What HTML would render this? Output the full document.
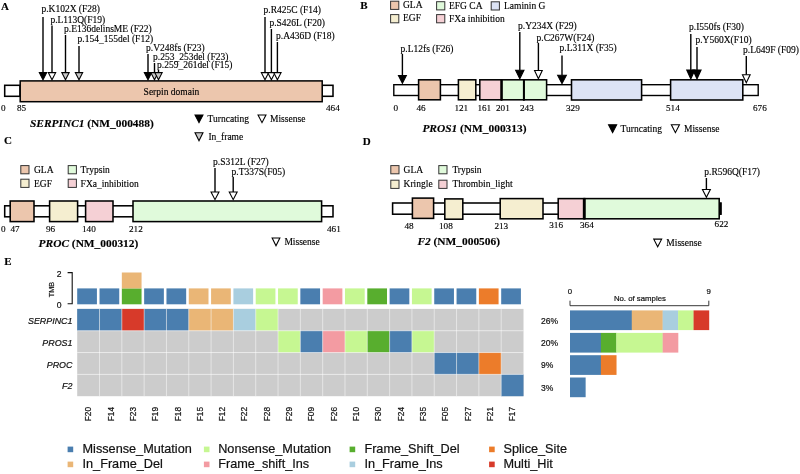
<!DOCTYPE html>
<html lang="en"><head><meta charset="utf-8"><title>Figure</title>
<style>
html,body{margin:0;padding:0;background:#fff;}
svg{display:block;}
.se{font-family:"Liberation Serif",serif;fill:#000;stroke:#000;stroke-width:0.14px;}
.sa{font-family:"Liberation Sans",sans-serif;fill:#111;stroke:#111;stroke-width:0.2px;}
</style></head>
<body>
<svg width="800" height="474" viewBox="0 0 800 474">
<rect width="800" height="474" fill="#fff"/>
<text x="1" y="9.6" font-size="11" class="se" font-weight="bold">A</text>
<text x="41.4" y="12.1" font-size="9.5" class="se" >p.K102X (F28)</text>
<text x="50.4" y="22.9" font-size="9.5" class="se" >p.L113Q(F19)</text>
<text x="64" y="32" font-size="9.5" class="se" >p.E136delinsME (F22)</text>
<text x="77.6" y="42" font-size="9.5" class="se" >p.154_155del (F12)</text>
<text x="146" y="51" font-size="9.5" class="se" >p.V248fs (F23)</text>
<text x="153" y="59.5" font-size="9.5" class="se" >p.253_253del (F23)</text>
<text x="157" y="68" font-size="9.5" class="se" >p.259_261del (F15)</text>
<text x="263.5" y="13" font-size="9.5" class="se" >p.R425C (F14)</text>
<text x="269.4" y="26" font-size="9.5" class="se" >p.S426L (F20)</text>
<text x="276" y="39" font-size="9.5" class="se" >p.A436D (F18)</text>
<rect x="4.7" y="85.3" width="15.3" height="11.0" fill="#fff" stroke="#000" stroke-width="1.55"/>
<rect x="322" y="85.3" width="11" height="11.0" fill="#fff" stroke="#000" stroke-width="1.55"/>
<rect x="20.2" y="80.9" width="302.0" height="20.8" fill="#ECC6AD" stroke="#000" stroke-width="1.5"/>
<path d="M43 17V72.6" stroke="#000" stroke-width="1.4" fill="none"/>
<path d="M39.35 72.65H46.65L43 79.75Z" fill="#000" stroke="#000" stroke-width="1.1" stroke-linejoin="miter"/>
<path d="M52 25.6V72.6" stroke="#000" stroke-width="1.4" fill="none"/>
<path d="M48.35 72.65H55.65L52 79.75Z" fill="#fff" stroke="#000" stroke-width="1.1" stroke-linejoin="miter"/>
<path d="M65.5 35V72.6" stroke="#000" stroke-width="1.4" fill="none"/>
<path d="M61.85 72.65H69.15L65.5 79.75Z" fill="#c8c8c8" stroke="#000" stroke-width="1.1" stroke-linejoin="miter"/>
<path d="M79 46V72.6" stroke="#000" stroke-width="1.4" fill="none"/>
<path d="M75.35 72.65H82.65L79 79.75Z" fill="#c8c8c8" stroke="#000" stroke-width="1.1" stroke-linejoin="miter"/>
<path d="M148 54V72.6" stroke="#000" stroke-width="1.4" fill="none"/>
<path d="M144.35 72.65H151.65L148 79.75Z" fill="#000" stroke="#000" stroke-width="1.1" stroke-linejoin="miter"/>
<path d="M154.5 63V72.6" stroke="#000" stroke-width="1.4" fill="none"/>
<path d="M150.85 72.65H158.15L154.5 79.75Z" fill="#c8c8c8" stroke="#000" stroke-width="1.1" stroke-linejoin="miter"/>
<path d="M158.5 70V72.6" stroke="#000" stroke-width="1.4" fill="none"/>
<path d="M154.85 72.65H162.15L158.5 79.75Z" fill="#c8c8c8" stroke="#000" stroke-width="1.1" stroke-linejoin="miter"/>
<path d="M265 17V72.6" stroke="#000" stroke-width="1.4" fill="none"/>
<path d="M261.35 72.65H268.65L265 79.75Z" fill="#fff" stroke="#000" stroke-width="1.1" stroke-linejoin="miter"/>
<path d="M271.4 29V72.6" stroke="#000" stroke-width="1.4" fill="none"/>
<path d="M267.75 72.65H275.05L271.4 79.75Z" fill="#fff" stroke="#000" stroke-width="1.1" stroke-linejoin="miter"/>
<path d="M277.4 42V72.6" stroke="#000" stroke-width="1.4" fill="none"/>
<path d="M273.75 72.65H281.05L277.4 79.75Z" fill="#fff" stroke="#000" stroke-width="1.1" stroke-linejoin="miter"/>
<text x="143.6" y="94.6" font-size="9.5" class="se" >Serpin domain</text>
<text x="1" y="111" font-size="9.2" class="se" >0</text>
<text x="17" y="111" font-size="9.2" class="se" >85</text>
<text x="326" y="111" font-size="9.2" class="se" >464</text>
<text x="30" y="127" font-size="11.4" class="se" font-weight="bold"><tspan font-style="italic">SERPINC1</tspan> (NM_000488)</text>
<path d="M195.05 114.95H202.95L199 122.65Z" fill="#000" stroke="#000" stroke-width="1.1" stroke-linejoin="miter"/>
<text x="207.6" y="121.6" font-size="9.5" class="se" >Turncating</text>
<path d="M258.05 114.95H265.95L262 122.65Z" fill="#fff" stroke="#000" stroke-width="1.1" stroke-linejoin="miter"/>
<text x="270" y="121.6" font-size="9.5" class="se" >Missense</text>
<path d="M195.05 132.75H202.95L199 140.65Z" fill="#c8c8c8" stroke="#000" stroke-width="1.1" stroke-linejoin="miter"/>
<text x="208.4" y="139.6" font-size="9.5" class="se" >In_frame</text>
<text x="360.2" y="9.4" font-size="11" class="se" font-weight="bold">B</text>
<rect x="390.6" y="1.2" width="8.2" height="8.2" fill="#ECC6AD" stroke="#333" stroke-width="1"/>
<text x="403" y="8.4" font-size="9.5" class="se" >GLA</text>
<rect x="390.6" y="14.6" width="8.2" height="8.2" fill="#F5EED0" stroke="#333" stroke-width="1"/>
<text x="403" y="21.2" font-size="9.5" class="se" >EGF</text>
<rect x="436.6" y="1.7" width="8.2" height="8.2" fill="#E0FADB" stroke="#333" stroke-width="1"/>
<text x="449" y="9.2" font-size="9.5" class="se" >EFG CA</text>
<rect x="436.6" y="14.6" width="8.2" height="8.2" fill="#F5D0D5" stroke="#333" stroke-width="1"/>
<text x="449" y="22.3" font-size="9.5" class="se" >FXa inhibition</text>
<rect x="491.2" y="1.8" width="8.2" height="8.2" fill="#DCE3F5" stroke="#333" stroke-width="1"/>
<text x="504" y="9.2" font-size="9.5" class="se" >Laminin G</text>
<rect x="393.8" y="84.7" width="364.4" height="10.8" fill="#fff" stroke="#000" stroke-width="1.4"/>
<rect x="418.6" y="79.8" width="21.8" height="20.0" fill="#ECC6AD" stroke="#000" stroke-width="1.55"/>
<rect x="458.4" y="79.8" width="17.4" height="20.0" fill="#F5EED0" stroke="#000" stroke-width="1.55"/>
<rect x="479.8" y="79.8" width="21.6" height="20.0" fill="#F5D0D5" stroke="#000" stroke-width="1.55"/>
<rect x="501.8" y="79.8" width="22.0" height="20.0" fill="#E0FADB" stroke="#000" stroke-width="1.55"/>
<rect x="523.8" y="79.8" width="22.8" height="20.0" fill="#E0FADB" stroke="#000" stroke-width="1.55"/>
<path d="M523.9 79.1V100.5" stroke="#000" stroke-width="2"/>
<path d="M501.5 79.1V100.5" stroke="#000" stroke-width="2.2"/>
<rect x="571.5" y="79.8" width="70.1" height="20.2" fill="#DCE3F5" stroke="#000" stroke-width="1.55"/>
<rect x="670.6" y="79.8" width="72.2" height="20.2" fill="#DCE3F5" stroke="#000" stroke-width="1.55"/>
<text x="400.6" y="51.6" font-size="9.5" class="se" >p.L12fs (F26)</text>
<text x="518" y="28.6" font-size="9.5" class="se" >p.Y234X (F29)</text>
<text x="536.6" y="41" font-size="9.5" class="se" >p.C267W(F24)</text>
<text x="559.6" y="51" font-size="9.5" class="se" >p.L311X (F35)</text>
<text x="689" y="30" font-size="9.5" class="se" >p.I550fs (F30)</text>
<text x="695.4" y="43" font-size="9.5" class="se" >p.Y560X(F10)</text>
<text x="743" y="53.4" font-size="9.5" class="se" >p.L649F (F09)</text>
<path d="M402.4 54V75.5" stroke="#000" stroke-width="1.4" fill="none"/>
<path d="M398.45 75.55H406.35L402.4 83.25Z" fill="#000" stroke="#000" stroke-width="1.1" stroke-linejoin="miter"/>
<path d="M519.8 32V70.2" stroke="#000" stroke-width="1.4" fill="none"/>
<path d="M515.65 70.25H523.95L519.8 78.75Z" fill="#000" stroke="#000" stroke-width="1.1" stroke-linejoin="miter"/>
<path d="M538.4 43V70.5" stroke="#000" stroke-width="1.4" fill="none"/>
<path d="M534.55 70.55H542.25L538.4 78.75Z" fill="#fff" stroke="#000" stroke-width="1.1" stroke-linejoin="miter"/>
<path d="M562 55.6V75.2" stroke="#000" stroke-width="1.4" fill="none"/>
<path d="M557.65 75.25H566.35L562 83.65Z" fill="#000" stroke="#000" stroke-width="1.1" stroke-linejoin="miter"/>
<path d="M690.8 34V69.9" stroke="#000" stroke-width="1.4" fill="none"/>
<path d="M686.75 69.95H694.85L690.8 78.85Z" fill="#000" stroke="#000" stroke-width="1.1" stroke-linejoin="miter"/>
<path d="M697 47V69.9" stroke="#000" stroke-width="1.4" fill="none"/>
<path d="M692.95 69.95H701.05L697 78.85Z" fill="#000" stroke="#000" stroke-width="1.1" stroke-linejoin="miter"/>
<path d="M746.3 56V74.7" stroke="#000" stroke-width="1.4" fill="none"/>
<path d="M742.45 74.75H750.15L746.3 82.65Z" fill="#fff" stroke="#000" stroke-width="1.1" stroke-linejoin="miter"/>
<text x="393.6" y="110.6" font-size="9.2" class="se" >0</text>
<text x="416.4" y="110.6" font-size="9.2" class="se" >46</text>
<text x="454.4" y="110.6" font-size="9.2" class="se" >121</text>
<text x="477.4" y="110.6" font-size="9.2" class="se" >161</text>
<text x="496" y="110.6" font-size="9.2" class="se" >201</text>
<text x="520" y="110.6" font-size="9.2" class="se" >243</text>
<text x="566" y="110.6" font-size="9.2" class="se" >329</text>
<text x="666" y="110.6" font-size="9.2" class="se" >514</text>
<text x="753" y="110.6" font-size="9.2" class="se" >676</text>
<text x="422.4" y="131.8" font-size="11.4" class="se" font-weight="bold"><tspan font-style="italic">PROS1</tspan> (NM_000313)</text>
<path d="M608.55 124.75H616.65L612.6 132.65Z" fill="#000" stroke="#000" stroke-width="1.1" stroke-linejoin="miter"/>
<text x="620.6" y="131.6" font-size="9.5" class="se" >Turncating</text>
<path d="M671.35 124.75H679.45L675.4 132.65Z" fill="#fff" stroke="#000" stroke-width="1.1" stroke-linejoin="miter"/>
<text x="684" y="131.6" font-size="9.5" class="se" >Missense</text>
<text x="4" y="143.9" font-size="11" class="se" font-weight="bold">C</text>
<rect x="20.8" y="165.6" width="8.2" height="8.2" fill="#ECC6AD" stroke="#333" stroke-width="1"/>
<text x="34" y="172.6" font-size="9.5" class="se" >GLA</text>
<rect x="20.8" y="179.2" width="8.2" height="8.2" fill="#F5EED0" stroke="#333" stroke-width="1"/>
<text x="34" y="187" font-size="9.5" class="se" >EGF</text>
<rect x="68.2" y="165.6" width="8.2" height="8.2" fill="#E0FADB" stroke="#333" stroke-width="1"/>
<text x="80.6" y="172.6" font-size="9.5" class="se" >Trypsin</text>
<rect x="68.2" y="179.2" width="8.2" height="8.2" fill="#F5D0D5" stroke="#333" stroke-width="1"/>
<text x="80.6" y="187.2" font-size="9.5" class="se" >FXa_inhibition</text>
<rect x="4.7" y="205.8" width="328.3" height="11.0" fill="#fff" stroke="#000" stroke-width="1.55"/>
<rect x="10.2" y="201" width="23.8" height="20.6" fill="#ECC6AD" stroke="#000" stroke-width="1.55"/>
<rect x="49.6" y="201" width="28.0" height="20.6" fill="#F5EED0" stroke="#000" stroke-width="1.55"/>
<rect x="85.6" y="201" width="27.4" height="20.6" fill="#F5D0D5" stroke="#000" stroke-width="1.55"/>
<rect x="133" y="201" width="188.6" height="20.6" fill="#E0FADB" stroke="#000" stroke-width="1.55"/>
<text x="213" y="164.6" font-size="9.5" class="se" >p.S312L (F27)</text>
<text x="231.6" y="175.4" font-size="9.5" class="se" >p.T337S(F05)</text>
<path d="M215 168V191.9" stroke="#000" stroke-width="1.4" fill="none"/>
<path d="M211.05 191.95H218.95L215 199.65Z" fill="#fff" stroke="#000" stroke-width="1.1" stroke-linejoin="miter"/>
<path d="M233.2 177V191.9" stroke="#000" stroke-width="1.4" fill="none"/>
<path d="M229.25 191.95H237.15L233.2 199.65Z" fill="#fff" stroke="#000" stroke-width="1.1" stroke-linejoin="miter"/>
<text x="1" y="232" font-size="9.2" class="se" >0</text>
<text x="10.4" y="232" font-size="9.2" class="se" >47</text>
<text x="46" y="232" font-size="9.2" class="se" >96</text>
<text x="82" y="232" font-size="9.2" class="se" >140</text>
<text x="129" y="232" font-size="9.2" class="se" >212</text>
<text x="327" y="232" font-size="9.2" class="se" >461</text>
<text x="38.6" y="247.4" font-size="11.4" class="se" font-weight="bold"><tspan font-style="italic">PROC</tspan> (NM_000312)</text>
<path d="M272.15 237.95H279.85L276 245.65Z" fill="#fff" stroke="#000" stroke-width="1.1" stroke-linejoin="miter"/>
<text x="284.4" y="244.6" font-size="9.5" class="se" >Missense</text>
<text x="362.8" y="145.2" font-size="11" class="se" font-weight="bold">D</text>
<rect x="390.8" y="165.6" width="8.2" height="8.2" fill="#ECC6AD" stroke="#333" stroke-width="1"/>
<text x="403.6" y="172.6" font-size="9.5" class="se" >GLA</text>
<rect x="390.8" y="180.2" width="8.2" height="8.2" fill="#F5EED0" stroke="#333" stroke-width="1"/>
<text x="403.6" y="186.8" font-size="9.5" class="se" >Kringle</text>
<rect x="438.8" y="165.6" width="8.2" height="8.2" fill="#E0FADB" stroke="#333" stroke-width="1"/>
<text x="452.4" y="172.6" font-size="9.5" class="se" >Trypsin</text>
<rect x="438.8" y="180.2" width="8.2" height="8.2" fill="#F5D0D5" stroke="#333" stroke-width="1"/>
<text x="452.4" y="187.4" font-size="9.5" class="se" >Thrombin_light</text>
<rect x="392.6" y="203" width="328.4" height="11.2" fill="#fff" stroke="#000" stroke-width="1.55"/>
<rect x="412.4" y="198.1" width="21.2" height="20.3" fill="#ECC6AD" stroke="#000" stroke-width="1.55"/>
<rect x="444.8" y="198.9" width="18.0" height="20.3" fill="#F5EED0" stroke="#000" stroke-width="1.55"/>
<rect x="500.2" y="198.6" width="42.8" height="20.2" fill="#F5EED0" stroke="#000" stroke-width="1.55"/>
<rect x="558.2" y="198.6" width="25.4" height="20.2" fill="#F5D0D5" stroke="#000" stroke-width="1.55"/>
<rect x="584.6" y="198.6" width="134.6" height="20.2" fill="#E0FADB" stroke="#000" stroke-width="1.55"/>
<path d="M584.4 197.9V219.5" stroke="#000" stroke-width="2.4"/>
<path d="M720.2 203V214.2" stroke="#000" stroke-width="2.2"/>
<text x="704.3" y="175" font-size="9.5" class="se" >p.R596Q(F17)</text>
<path d="M706.4 178V189.5" stroke="#000" stroke-width="1.4" fill="none"/>
<path d="M702.45 189.55H710.35L706.4 197.25Z" fill="#fff" stroke="#000" stroke-width="1.1" stroke-linejoin="miter"/>
<text x="404.4" y="228.6" font-size="9.2" class="se" >48</text>
<text x="439" y="228.6" font-size="9.2" class="se" >108</text>
<text x="494.4" y="228.6" font-size="9.2" class="se" >213</text>
<text x="549.2" y="227.8" font-size="9.2" class="se" >316</text>
<text x="580" y="228.4" font-size="9.2" class="se" >364</text>
<text x="714.6" y="227.2" font-size="9.2" class="se" >622</text>
<text x="417.4" y="245.4" font-size="11.4" class="se" font-weight="bold"><tspan font-style="italic">F2</tspan> (NM_000506)</text>
<path d="M653.75 239.15H661.65L657.7 246.85Z" fill="#fff" stroke="#000" stroke-width="1.1" stroke-linejoin="miter"/>
<text x="666.3" y="246" font-size="9.5" class="se" >Missense</text>
<text x="4.2" y="265.4" font-size="11" class="se" font-weight="bold">E</text>
<rect x="77.2" y="308.9" width="446.3" height="87.30000000000001" fill="#CCCCCC"/>
<rect x="77.2" y="308.9" width="22.32" height="21.83" fill="#4A7EAF"/>
<rect x="99.52" y="308.9" width="22.32" height="21.83" fill="#4A7EAF"/>
<rect x="121.83" y="308.9" width="22.32" height="21.83" fill="#D73A2A"/>
<rect x="144.15" y="308.9" width="22.32" height="21.83" fill="#4A7EAF"/>
<rect x="166.46" y="308.9" width="22.32" height="21.83" fill="#4A7EAF"/>
<rect x="188.78" y="308.9" width="22.32" height="21.83" fill="#EAB676"/>
<rect x="211.09" y="308.9" width="22.32" height="21.83" fill="#EAB676"/>
<rect x="233.41" y="308.9" width="22.32" height="21.83" fill="#A9CEDF"/>
<rect x="255.72" y="308.9" width="22.32" height="21.83" fill="#C6F792"/>
<rect x="278.04" y="330.72" width="22.32" height="21.83" fill="#C6F792"/>
<rect x="300.35" y="330.72" width="22.32" height="21.83" fill="#4A7EAF"/>
<rect x="322.67" y="330.72" width="22.32" height="21.83" fill="#F39BA2"/>
<rect x="344.98" y="330.72" width="22.32" height="21.83" fill="#C6F792"/>
<rect x="367.3" y="330.72" width="22.32" height="21.83" fill="#58AE2E"/>
<rect x="389.61" y="330.72" width="22.32" height="21.83" fill="#4A7EAF"/>
<rect x="411.93" y="330.72" width="22.32" height="21.83" fill="#C6F792"/>
<rect x="434.24" y="352.55" width="22.32" height="21.83" fill="#4A7EAF"/>
<rect x="456.56" y="352.55" width="22.32" height="21.83" fill="#4A7EAF"/>
<rect x="478.87" y="352.55" width="22.32" height="21.83" fill="#EC7C2A"/>
<rect x="501.19" y="374.38" width="22.32" height="21.83" fill="#4A7EAF"/>
<path d="M99.52 308.9V396.2" stroke="#fff" stroke-width="0.5"/>
<path d="M121.83 308.9V396.2" stroke="#fff" stroke-width="0.5"/>
<path d="M144.15 308.9V396.2" stroke="#fff" stroke-width="0.5"/>
<path d="M166.46 308.9V396.2" stroke="#fff" stroke-width="0.5"/>
<path d="M188.78 308.9V396.2" stroke="#fff" stroke-width="0.5"/>
<path d="M211.09 308.9V396.2" stroke="#fff" stroke-width="0.5"/>
<path d="M233.41 308.9V396.2" stroke="#fff" stroke-width="0.5"/>
<path d="M255.72 308.9V396.2" stroke="#fff" stroke-width="0.5"/>
<path d="M278.04 308.9V396.2" stroke="#fff" stroke-width="0.5"/>
<path d="M300.35 308.9V396.2" stroke="#fff" stroke-width="0.5"/>
<path d="M322.67 308.9V396.2" stroke="#fff" stroke-width="0.5"/>
<path d="M344.98 308.9V396.2" stroke="#fff" stroke-width="0.5"/>
<path d="M367.3 308.9V396.2" stroke="#fff" stroke-width="0.5"/>
<path d="M389.61 308.9V396.2" stroke="#fff" stroke-width="0.5"/>
<path d="M411.93 308.9V396.2" stroke="#fff" stroke-width="0.5"/>
<path d="M434.24 308.9V396.2" stroke="#fff" stroke-width="0.5"/>
<path d="M456.56 308.9V396.2" stroke="#fff" stroke-width="0.5"/>
<path d="M478.87 308.9V396.2" stroke="#fff" stroke-width="0.5"/>
<path d="M501.19 308.9V396.2" stroke="#fff" stroke-width="0.5"/>
<path d="M77.2 330.72H523.5" stroke="#fff" stroke-width="0.6"/>
<path d="M77.2 352.55H523.5" stroke="#fff" stroke-width="0.6"/>
<path d="M77.2 374.38H523.5" stroke="#fff" stroke-width="0.6"/>
<rect x="77.2" y="288.40000000000003" width="19.72" height="15.9" fill="#4A7EAF"/>
<text transform="translate(91.26 421.3) rotate(-90)" font-size="8.3" class="sa">F20</text>
<rect x="99.52" y="288.40000000000003" width="19.72" height="15.9" fill="#4A7EAF"/>
<text transform="translate(113.57 421.3) rotate(-90)" font-size="8.3" class="sa">F14</text>
<rect x="121.83" y="288.40000000000003" width="19.72" height="15.9" fill="#58AE2E"/>
<rect x="121.83" y="272.5" width="19.72" height="15.9" fill="#EAB676"/>
<text transform="translate(135.89 421.3) rotate(-90)" font-size="8.3" class="sa">F23</text>
<rect x="144.15" y="288.40000000000003" width="19.72" height="15.9" fill="#4A7EAF"/>
<text transform="translate(158.2 421.3) rotate(-90)" font-size="8.3" class="sa">F19</text>
<rect x="166.46" y="288.40000000000003" width="19.72" height="15.9" fill="#4A7EAF"/>
<text transform="translate(180.52 421.3) rotate(-90)" font-size="8.3" class="sa">F18</text>
<rect x="188.78" y="288.40000000000003" width="19.72" height="15.9" fill="#EAB676"/>
<text transform="translate(202.83 421.3) rotate(-90)" font-size="8.3" class="sa">F15</text>
<rect x="211.09" y="288.40000000000003" width="19.72" height="15.9" fill="#EAB676"/>
<text transform="translate(225.15 421.3) rotate(-90)" font-size="8.3" class="sa">F12</text>
<rect x="233.41" y="288.40000000000003" width="19.72" height="15.9" fill="#A9CEDF"/>
<text transform="translate(247.46 421.3) rotate(-90)" font-size="8.3" class="sa">F22</text>
<rect x="255.72" y="288.40000000000003" width="19.71" height="15.9" fill="#C6F792"/>
<text transform="translate(269.78 421.3) rotate(-90)" font-size="8.3" class="sa">F28</text>
<rect x="278.04" y="288.40000000000003" width="19.71" height="15.9" fill="#C6F792"/>
<text transform="translate(292.09 421.3) rotate(-90)" font-size="8.3" class="sa">F29</text>
<rect x="300.35" y="288.40000000000003" width="19.71" height="15.9" fill="#4A7EAF"/>
<text transform="translate(314.41 421.3) rotate(-90)" font-size="8.3" class="sa">F09</text>
<rect x="322.67" y="288.40000000000003" width="19.71" height="15.9" fill="#F39BA2"/>
<text transform="translate(336.72 421.3) rotate(-90)" font-size="8.3" class="sa">F26</text>
<rect x="344.98" y="288.40000000000003" width="19.71" height="15.9" fill="#C6F792"/>
<text transform="translate(359.04 421.3) rotate(-90)" font-size="8.3" class="sa">F10</text>
<rect x="367.3" y="288.40000000000003" width="19.71" height="15.9" fill="#58AE2E"/>
<text transform="translate(381.35 421.3) rotate(-90)" font-size="8.3" class="sa">F30</text>
<rect x="389.61" y="288.40000000000003" width="19.71" height="15.9" fill="#4A7EAF"/>
<text transform="translate(403.67 421.3) rotate(-90)" font-size="8.3" class="sa">F24</text>
<rect x="411.93" y="288.40000000000003" width="19.71" height="15.9" fill="#C6F792"/>
<text transform="translate(425.98 421.3) rotate(-90)" font-size="8.3" class="sa">F35</text>
<rect x="434.24" y="288.40000000000003" width="19.71" height="15.9" fill="#4A7EAF"/>
<text transform="translate(448.3 421.3) rotate(-90)" font-size="8.3" class="sa">F05</text>
<rect x="456.56" y="288.40000000000003" width="19.71" height="15.9" fill="#4A7EAF"/>
<text transform="translate(470.61 421.3) rotate(-90)" font-size="8.3" class="sa">F27</text>
<rect x="478.87" y="288.40000000000003" width="19.71" height="15.9" fill="#EC7C2A"/>
<text transform="translate(492.93 421.3) rotate(-90)" font-size="8.3" class="sa">F21</text>
<rect x="501.19" y="288.40000000000003" width="19.71" height="15.9" fill="#4A7EAF"/>
<text transform="translate(515.24 421.3) rotate(-90)" font-size="8.3" class="sa">F17</text>
<path d="M67.6 272.6H72.2V303.8H67.6" stroke="#111" stroke-width="1.1" fill="none"/>
<text x="56.8" y="277" font-size="8.6" class="sa" >2</text>
<text x="56.8" y="308.2" font-size="8.6" class="sa" >0</text>
<text transform="translate(54.2 297.2) rotate(-90)" font-size="7.2" class="sa">TMB</text>
<text x="72.4" y="323.91" font-size="8.9" class="sa" font-style="italic" text-anchor="end">SERPINC1</text>
<text x="72.4" y="345.74" font-size="8.9" class="sa" font-style="italic" text-anchor="end">PROS1</text>
<text x="72.4" y="367.56" font-size="8.9" class="sa" font-style="italic" text-anchor="end">PROC</text>
<text x="72.4" y="389.39" font-size="8.9" class="sa" font-style="italic" text-anchor="end">F2</text>
<text x="541" y="323.65" font-size="8.5" class="sa" >26%</text>
<text x="541" y="346.15" font-size="8.5" class="sa" >20%</text>
<text x="541" y="368.45" font-size="8.5" class="sa" >9%</text>
<text x="541" y="390.75" font-size="8.5" class="sa" >3%</text>
<rect x="570" y="310.4" width="61.98" height="19.7" fill="#4A7EAF"/>
<rect x="631.78" y="310.4" width="31.09" height="19.7" fill="#EAB676"/>
<rect x="662.67" y="310.4" width="15.64" height="19.7" fill="#A9CEDF"/>
<rect x="678.11" y="310.4" width="15.64" height="19.7" fill="#C6F792"/>
<rect x="693.56" y="310.4" width="15.64" height="19.7" fill="#D73A2A"/>
<rect x="570" y="332.9" width="31.09" height="19.7" fill="#4A7EAF"/>
<rect x="600.89" y="332.9" width="15.64" height="19.7" fill="#58AE2E"/>
<rect x="616.33" y="332.9" width="46.53" height="19.7" fill="#C6F792"/>
<rect x="662.67" y="332.9" width="15.64" height="19.7" fill="#F39BA2"/>
<rect x="570" y="355.2" width="31.09" height="19.7" fill="#4A7EAF"/>
<rect x="600.89" y="355.2" width="15.64" height="19.7" fill="#EC7C2A"/>
<rect x="570" y="377.5" width="15.64" height="19.7" fill="#4A7EAF"/>
<path d="M570 300.7V305.7H708.8V300.7" stroke="#222" stroke-width="0.9" fill="none"/>
<text x="570" y="293.6" font-size="7.8" class="sa" text-anchor="middle">0</text>
<text x="708.6" y="293.6" font-size="7.8" class="sa" text-anchor="middle">9</text>
<text x="639.9" y="301.4" font-size="7.8" class="sa" text-anchor="middle">No. of samples</text>
<rect x="67.6" y="446.6" width="5.6" height="5.6" fill="#4A7EAF"/>
<rect x="67.6" y="461.6" width="5.6" height="5.6" fill="#EAB676"/>
<text x="82.5" y="453.1" font-size="12.7" class="sa" >Missense_Mutation</text>
<text x="82.5" y="468.1" font-size="12.7" class="sa" >In_Frame_Del</text>
<rect x="203.9" y="446.6" width="5.6" height="5.6" fill="#C6F792"/>
<rect x="203.9" y="461.6" width="5.6" height="5.6" fill="#F39BA2"/>
<text x="218.2" y="453.1" font-size="12.7" class="sa" >Nonsense_Mutation</text>
<text x="218.2" y="468.1" font-size="12.7" class="sa" >Frame_shift_Ins</text>
<rect x="349.6" y="446.6" width="5.6" height="5.6" fill="#58AE2E"/>
<rect x="349.6" y="461.6" width="5.6" height="5.6" fill="#A9CEDF"/>
<text x="364.4" y="453.1" font-size="12.7" class="sa" >Frame_Shift_Del</text>
<text x="364.4" y="468.1" font-size="12.7" class="sa" >In_Frame_Ins</text>
<rect x="489.1" y="446.6" width="5.6" height="5.6" fill="#EC7C2A"/>
<rect x="489.1" y="461.6" width="5.6" height="5.6" fill="#D73A2A"/>
<text x="503.5" y="453.1" font-size="12.7" class="sa" >Splice_Site</text>
<text x="503.5" y="468.1" font-size="12.7" class="sa" >Multi_Hit</text>
</svg>
</body></html>
